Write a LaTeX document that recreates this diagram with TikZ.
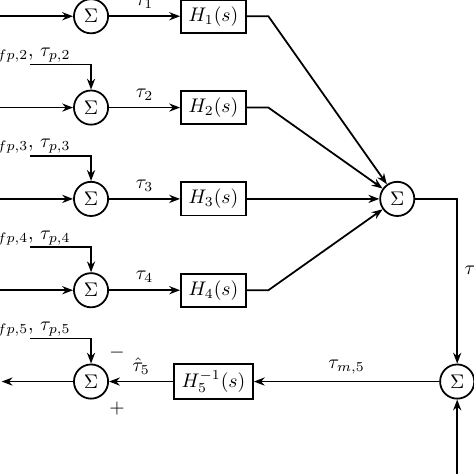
\documentclass[tikz,border=0pt]{standalone}
\usetikzlibrary{arrows.meta,positioning}
\begin{document}
\begin{tikzpicture}[x=1cm, y=1cm, every node/.style={font=\normalsize}]
  \tikzset{sumnode/.style={draw, circle, line width=0.9pt, minimum size=0.61cm, inner sep=0pt},
           blk/.style={draw, line width=0.9pt, minimum width=1.16cm, minimum height=0.59cm, inner sep=2pt},
           sig/.style={-{Stealth[length=5.5pt]}, line width=0.9pt}}
  \clip (0,0) rectangle (8.46,-8.46);
  % branch 1
  \coordinate (in1) at (-0.3,-0.29);
  \coordinate (d1) at (0.54,0.48);
  \coordinate (k1) at (4.79,-0.29);
  \node[sumnode] (s1) at (1.625,-0.29) {$\Sigma$};
  \node[blk] (h1) at (3.81,-0.29) {$H_1(s)$};
  \node[anchor=south east, inner sep=1pt] (l1) at (1.3,0.48) {$\tau_{fp,1}$, $\tau_{p,1}$};
  % branch 2
  \coordinate (in2) at (-0.3,-1.92);
  \coordinate (d2) at (0.54,-1.15);
  \coordinate (k2) at (4.79,-1.92);
  \node[sumnode] (s2) at (1.625,-1.92) {$\Sigma$};
  \node[blk] (h2) at (3.81,-1.92) {$H_2(s)$};
  \node[anchor=south east, inner sep=1pt] (l2) at (1.3,-1.15) {$\tau_{fp,2}$, $\tau_{p,2}$};
  % branch 3
  \coordinate (in3) at (-0.3,-3.55);
  \coordinate (d3) at (0.54,-2.78);
  \node[sumnode] (s3) at (1.625,-3.55) {$\Sigma$};
  \node[blk] (h3) at (3.81,-3.55) {$H_3(s)$};
  \node[anchor=south east, inner sep=1pt] (l3) at (1.3,-2.78) {$\tau_{fp,3}$, $\tau_{p,3}$};
  % branch 4
  \coordinate (in4) at (-0.3,-5.18);
  \coordinate (d4) at (0.54,-4.41);
  \coordinate (k4) at (4.79,-5.18);
  \node[sumnode] (s4) at (1.625,-5.18) {$\Sigma$};
  \node[blk] (h4) at (3.81,-5.18) {$H_4(s)$};
  \node[anchor=south east, inner sep=1pt] (l4) at (1.3,-4.41) {$\tau_{fp,4}$, $\tau_{p,4}$};
  % branch 5 (inverse)
  \coordinate (out5) at (0.03,-6.81);
  \coordinate (d5) at (0.54,-6.04);
  \coordinate (in6) at (8.16,-9);
  \node[sumnode] (s5) at (1.625,-6.81) {$\Sigma$};
  \node[blk, minimum width=1.41cm, minimum height=0.625cm] (h5) at (3.81,-6.81) {$H_5^{-1}(s)$};
  \node[anchor=south east, inner sep=1pt] (l5) at (1.3,-6.04) {$\tau_{fp,5}$, $\tau_{p,5}$};
  \node (m5) at (2.09,-6.29) {$-$};
  \node (p5) at (2.09,-7.29) {$+$};
  % sums on the right
  \node[sumnode] (sg) at (7.09,-3.55) {$\Sigma$};
  \node[sumnode] (sb) at (8.16,-6.81) {$\Sigma$};
  % connections
  \draw[sig] (in1) -- (s1);
  \draw[sig] (in2) -- (s2);
  \draw[sig] (in3) -- (s3);
  \draw[sig] (in4) -- (s4);
  \draw[sig] (d1) -| (s1);
  \draw[sig] (d2) -| (s2);
  \draw[sig] (d3) -| (s3);
  \draw[sig] (d4) -| (s4);
  \draw[sig] (d5) -| (s5);
  \draw[sig] (s1) -- node[above] (t1) {$\tau_1$} (h1);
  \draw[sig] (s2) -- node[above] (t2) {$\tau_2$} (h2);
  \draw[sig] (s3) -- node[above] (t3) {$\tau_3$} (h3);
  \draw[sig] (s4) -- node[above] (t4) {$\tau_4$} (h4);
  \draw[sig] (h1) -- (k1) -- (sg);
  \draw[sig] (h2) -- (k2) -- (sg);
  \draw[sig] (h3) -- (sg);
  \draw[sig] (h4) -- (k4) -- (sg);
  \draw[sig] (sg) -| node[pos=0.72, right] (tm) {$\tau_5$} (sb);
  \draw[sig] (in6) -- (sb);
  \draw[sig] (sb) -- node[above] (tm5) {$\tau_{m,5}$} (h5);
  \draw[sig] (h5) -- node[above] (th5) {$\hat{\tau}_5$} (s5);
  \draw[sig] (s5) -- (out5);
\end{tikzpicture}
\end{document}
